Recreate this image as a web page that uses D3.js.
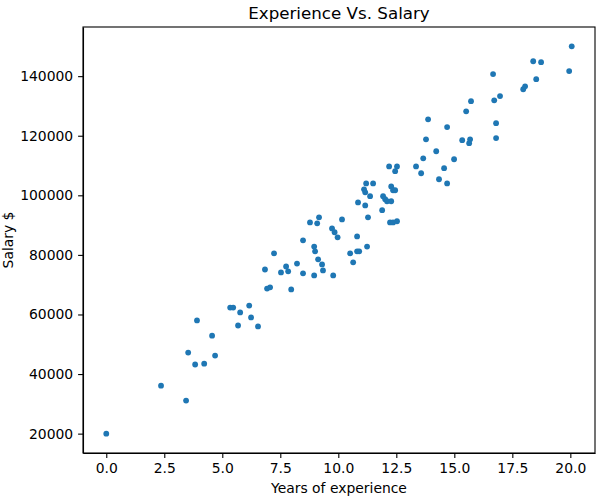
<!DOCTYPE html>
<meta charset="utf-8">
<style>
body { margin: 0; background: #fff; }
.chart text { font-family: "DejaVu Sans", sans-serif; fill: #000; }
.axis text { font-size: 13.9px; }
.axis path, .axis line { stroke: #000; stroke-width: 1.1; }
.title { font-size: 16.7px; text-anchor: middle; }
.label { font-size: 13.9px; text-anchor: middle; }
.dot { fill: #1f77b4; }
</style>
<svg class="chart"></svg>
<script src="https://cdn.jsdelivr.net/npm/d3@7"></script>
<script>

var years = [0.0, 2.36, 3.44, 3.53, 3.91, 3.83, 4.22, 4.56, 4.69, 5.34,
	5.47, 6.16, 5.77, 6.24, 5.68, 6.54, 6.84, 7.23, 6.93, 7.06,
	7.53, 7.75, 7.84, 7.97, 8.22, 8.48, 8.48, 8.78, 9.17, 9.09,
	8.96, 9.00, 9.13, 9.30, 8.96, 9.34, 9.78, 9.73, 9.84, 9.97,
	10.16, 10.51, 10.64, 10.81, 10.81, 10.90, 11.24, 10.85, 11.16, 11.28,
	11.11, 11.16, 11.20, 11.50, 11.37, 11.89, 11.93, 12.02, 12.10, 12.28,
	12.19, 12.53, 12.45, 12.28, 12.36, 12.45, 12.23, 12.36, 12.53, 13.35,
	13.57, 13.66, 13.78, 13.87, 14.22, 14.34, 14.56, 14.69, 14.69, 14.99,
	15.34, 15.51, 15.68, 15.64, 15.72, 16.67, 16.72, 16.97, 16.80, 16.80,
	17.97, 18.05, 18.53, 18.40, 18.74, 19.95, 20.06];

var salary = [20000, 36100, 31100, 47200, 58000, 43200, 43500, 52900, 46200, 62300,
	62300, 63000, 60700, 59000, 56300, 56000, 75100, 80500, 68700, 69100,
	74100, 76100, 74500, 68400, 77100, 84900, 73800, 90900, 92600, 90600,
	82800, 81200, 78500, 76800, 73100, 74800, 73100, 88900, 87600, 85900,
	91900, 80500, 77500, 86200, 81200, 81200, 82800, 97600, 96600, 92600,
	102000, 101000, 104000, 104000, 99700, 95000, 99700, 98700, 98000, 98000,
	109700, 109700, 108100, 103000, 101700, 101700, 90900, 90900, 91300, 109700,
	107400, 112400, 118800, 125500, 114800, 105400, 109100, 104000, 122900, 112100,
	118500, 128200, 118800, 117500, 131600, 140700, 131900, 133300, 124200, 119200,
	135600, 136600, 139000, 145000, 144700, 141700, 150000];

var xTicks = [0, 2.5, 5, 7.5, 10, 12.5, 15, 17.5, 20];
var yTicks = [20000, 40000, 60000, 80000, 100000, 120000, 140000];

var width = 612,
	height = 500;
var margin = { top: 27, right: 17, bottom: 47, left: 83 };

var svg = d3.select(".chart")
	.attr("width", width)
	.attr("height", height);

// matplotlib style 5% padding around the data
function padded(ext) {
	var p = (ext[1] - ext[0]) * 0.05;
	return [ext[0] - p, ext[1] + p];
}

var x = d3.scaleLinear()
	.domain(padded(d3.extent(years)))
	.range([margin.left, width - margin.right]);

var y = d3.scaleLinear()
	.domain(padded(d3.extent(salary)))
	.range([height - margin.bottom, margin.top]);

svg.append("g")
	.attr("class", "axis")
	.attr("transform", "translate(0," + (height - margin.bottom) + ")")
	.call(d3.axisBottom(x).tickValues(xTicks).tickFormat(d3.format(".1f"))
		.tickSizeInner(4.9).tickSizeOuter(0).tickPadding(4.9));

svg.append("g")
	.attr("class", "axis")
	.attr("transform", "translate(" + margin.left + ",0)")
	.call(d3.axisLeft(y).tickValues(yTicks).tickFormat(d3.format("d"))
		.tickSizeInner(4.9).tickSizeOuter(0).tickPadding(4.9));

// frame
svg.append("rect")
	.attr("x", margin.left)
	.attr("y", margin.top)
	.attr("width", width - margin.left - margin.right)
	.attr("height", height - margin.top - margin.bottom)
	.attr("fill", "none")
	.attr("stroke", "#000")
	.attr("stroke-width", 1.1);

svg.selectAll(".dot").data(years)
	.enter().append("circle")
	.attr("class", "dot")
	.attr("cx", function(d) { return x(d); })
	.attr("cy", function(d, i) { return y(salary[i]); })
	.attr("r", 2.9);

svg.append("text")
	.attr("class", "title")
	.attr("x", (margin.left + width - margin.right) / 2)
	.attr("y", margin.top - 8.5)
	.text("Experience Vs. Salary");

svg.append("text")
	.attr("class", "label")
	.attr("x", (margin.left + width - margin.right) / 2)
	.attr("y", height - 7)
	.text("Years of experience");

svg.append("text")
	.attr("class", "label")
	.attr("transform", "translate(13," + (margin.top + height - margin.bottom) / 2 + ") rotate(-90)")
	.text("Salary $");

</script>
